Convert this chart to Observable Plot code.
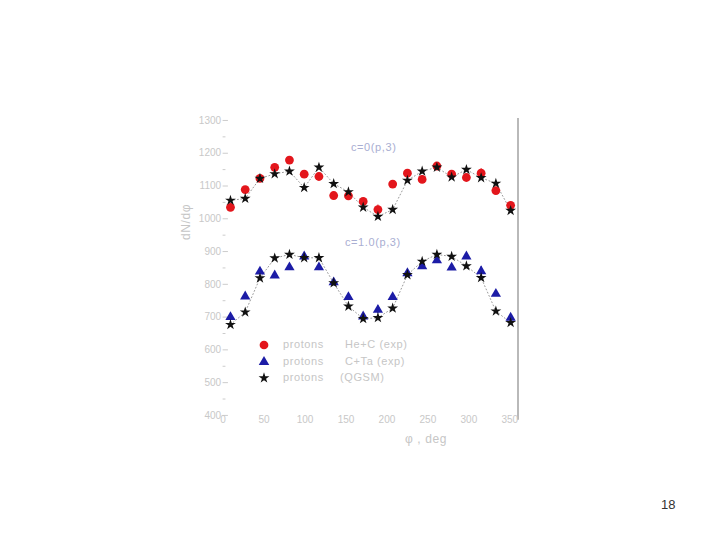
<!DOCTYPE html>
<html><head><meta charset="utf-8">
<script src="https://cdn.jsdelivr.net/npm/d3@7"></script>
<script src="https://cdn.jsdelivr.net/npm/@observablehq/plot@0.6"></script>
<style>
body{margin:0;background:#fff;font-family:"Liberation Sans",Arial,sans-serif;}
#wrap{position:relative;width:720px;height:540px;overflow:hidden;}
.t{position:absolute;color:#c6c6c6;font-size:11px;white-space:nowrap;letter-spacing:0.6px;line-height:1;}
.ann{color:#a9aed2;}
</style></head><body><div id="wrap"></div>
<script>
// azimuthal angle (deg), bin centres
const phi = [9,27,45,63,81,99,117,135,153,171,189,207,225,243,261,279,297,315,333,351];
// protons He+C (exp), shifted
const heC    = [1035,1089,1123,1157,1179,1136,1129,1071,1070,1053,1028,1106,1139,1120,1161,1136,1126,1139,1086,1041];
const heCErr = [10,6,6,6,6,6,10,6,6,8,14,6,6,12,8,6,6,14,8,10];
// QGSM for He+C
const heCModel = [1056,1062,1123,1137,1145,1095,1157,1107,1082,1035,1007,1028,1117,1145,1157,1127,1150,1125,1108,1025];
// protons C+Ta (exp)
const cTa    = [700,763,839,827,852,885,852,806,761,702,722,761,834,855,873,851,885,840,771,698];
const cTaErr = [8,6,6,6,6,8,10,6,6,8,12,6,6,8,8,6,6,14,6,10];
// QGSM for C+Ta
const cTaModel = [677,715,819,880,891,881,881,804,733,695,698,727,829,870,891,885,856,820,718,683];

const xTicks = [0,50,100,150,200,250,300,350];
const yTicks = [400,500,600,700,800,900,1000,1100,1200,1300];
const yMinor = [450,550,650,750,850,950,1050,1150,1250];
const yDomain = [415,1306];
const xDomain = [0,360];

const legendItems = [
  {sym:"circle", color:"#e3161c", a:"protons", b:"He+C (exp)"},
  {sym:"triangle", color:"#1c1ca6", a:"protons", b:"C+Ta (exp)"},
  {sym:"star", color:"#111", a:"protons", b:"(QGSM)"}
];

const upper = phi.map((p,i)=>({phi:p, v:heC[i], e:heCErr[i], m:heCModel[i]}));
const lower = phi.map((p,i)=>({phi:p, v:cTa[i], e:cTaErr[i], m:cTaModel[i]}));

const chart = Plot.plot({
  width:720, height:540,
  marginLeft:222.6, marginRight:202.5, marginTop:118, marginBottom:130,
  style:{fontFamily:"Liberation Sans, Arial, sans-serif", background:"transparent"},
  x:{domain:xDomain},
  y:{domain:yDomain, axis:null},
  marks:[
    Plot.ruleX([360], {y1:385, y2:yDomain[1], stroke:"#8a8a8a", strokeWidth:1.2}),
    // y tick marks (inward) and labels
    Plot.ruleY(yTicks, {x1:0, x2:6.5, stroke:"#cccccc", strokeWidth:1}),
    Plot.ruleY(yMinor, {x1:0, x2:3.5, stroke:"#cccccc", strokeWidth:1}),
    Plot.text(yTicks, {y:d=>d, text:d=>String(d), frameAnchor:"left", textAnchor:"end", dx:-2, fill:"#c8c8c8", fontSize:10}),
    Plot.axisX({ticks:xTicks, tickSize:0, tickPadding:5, fill:"#c8c8c8", fontSize:10, label:null}),
    // model (QGSM) dotted lines
    Plot.line(upper, {x:"phi", y:"m", stroke:"#9a9a9a", strokeWidth:1, strokeDasharray:"1,2.5"}),
    Plot.line(lower, {x:"phi", y:"m", stroke:"#9a9a9a", strokeWidth:1, strokeDasharray:"1,2.5"}),
    // error bars
    Plot.ruleX(upper, {x:"phi", y1:d=>d.v-d.e, y2:d=>d.v+d.e, stroke:"#e3161c", strokeWidth:1}),
    Plot.ruleX(lower, {x:"phi", y1:d=>d.v-d.e, y2:d=>d.v+d.e, stroke:"#1c1ca6", strokeWidth:1}),
    // data
    Plot.dot(upper, {x:"phi", y:"v", r:4.4, fill:"#e3161c", stroke:"none"}),
    Plot.dot(lower, {x:"phi", y:"v", symbol:"triangle", r:3.8, fill:"#1c1ca6", stroke:"none"}),
    Plot.dot(upper, {x:"phi", y:"m", symbol:"star", r:3.4, fill:"#111", stroke:"none"}),
    Plot.dot(lower, {x:"phi", y:"m", symbol:"star", r:3.4, fill:"#111", stroke:"none"})
  ]
});
const wrap = document.getElementById("wrap");
chart.style.position = "absolute"; chart.style.left = "0"; chart.style.top = "0";
wrap.appendChild(chart);

function addText(txt, x, y, cls, extra){
  const d = document.createElement("div");
  d.className = "t " + (cls||"");
  d.textContent = txt;
  d.style.left = x + "px"; d.style.top = y + "px";
  if (extra) Object.assign(d.style, extra);
  wrap.appendChild(d);
  return d;
}
// annotations
addText("c=0(p,3)", 351, 142, "ann");
addText("c=1.0(p,3)", 345, 237, "ann");
// axis titles
addText("dN/dφ", 168, 216, "", {transform:"rotate(-90deg)", fontSize:"12px"});
addText("φ , deg", 405, 433, "", {fontSize:"12px"});
// legend
legendItems.forEach((it,i)=>{
  const yy = 345 + i*16.5;
  const s = document.createElementNS("http://www.w3.org/2000/svg","svg");
  s.setAttribute("width",14); s.setAttribute("height",14);
  s.style.position="absolute"; s.style.left=(264-7)+"px"; s.style.top=(yy-7)+"px";
  const p = document.createElementNS("http://www.w3.org/2000/svg","path");
  const type = it.sym==="circle"?d3.symbolCircle: it.sym==="triangle"?d3.symbolTriangle:d3.symbolStar;
  const area = it.sym==="circle"?60: it.sym==="triangle"?48:36;
  p.setAttribute("d", d3.symbol(type, area)());
  p.setAttribute("transform","translate(7,7)");
  p.setAttribute("fill", it.color);
  s.appendChild(p); wrap.appendChild(s);
  addText(it.a, 283, yy-6);
  addText(it.b, it.sym==="star"?340:345, yy-6);
});
// page number
addText("18", 661, 498, "", {color:"#333", fontSize:"13px", letterSpacing:"0"});
</script></body></html>
